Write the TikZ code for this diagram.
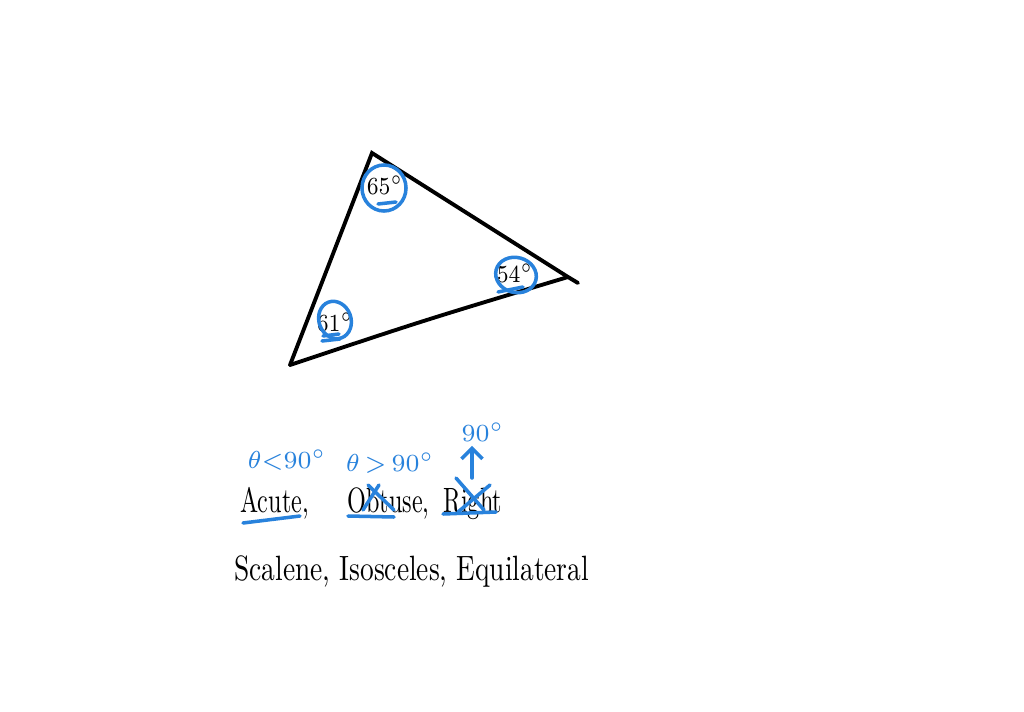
\documentclass[tikz,border=0pt]{standalone}
\usepackage{tikz}
\usetikzlibrary{shapes, arrows.meta, positioning}

\begin{document}
\begin{tikzpicture}[
    x=0.01cm, y=-0.01cm,
    % GLOBAL CFG
    >={Straight Barb[length=3pt]},
    line cap=round,
    % Styles
    side/.style={% For the triangle sides
        draw=black,
        line width=1.1pt,
        },
    angtxt/.style={% For the angle values
        text=black,
        font=\scriptsize,
        xscale=0.85,
        inner sep=1pt,
        },
    ring/.style={% Blue circle round an angle
        ellipse,
        draw=penblue,
        line width=1pt,
        inner sep=0pt,
        },
    penline/.style={% Blue pen strokes
        draw=penblue,
        line width=1pt,
        },
    bluetxt/.style={% Blue notes
        text=penblue,
        font=\scriptsize,
        inner sep=1pt,
        },
    wordtxt/.style={% Black words
        text=black,
        font=\fontsize{10}{12}\selectfont,
        xscale=0.78,
        inner sep=0pt,
        anchor=base west,
        },
    ]
\definecolor{penblue}{RGB}{40,130,220}

% Page
\useasboundingbox (0,0) rectangle (1024,712);
\fill[white] (0,0) rectangle (1024,712);

% Corners of the triangle
\coordinate (A) at (372,153);
\coordinate (B) at (568,277);
\coordinate (C) at (290,365);
\coordinate (Bt) at (578,283);

% Sides
\draw [side] (C) -- (A) -- (B) -- (Bt);
\draw [side] (C) .. controls (425,320) .. (B);

% Angles named as basis ta,tb,tc
\node [angtxt] (ta) at (385,185) {$65^\circ$};
\node [angtxt] (tb) at (515,273) {$54^\circ$};
\node [angtxt] (tc) at (335,322) {$61^\circ$};

\node [ring, minimum width=0.44cm, minimum height=0.46cm] (ra) at (384,188) {};
\node [ring, minimum width=0.41cm, minimum height=0.35cm, rotate=-15] (rb) at (516,275) {};
\node [ring, minimum width=0.32cm, minimum height=0.38cm, rotate=20] (rc) at (335,320) {};

% Underlines
\draw [penline] (ta) ++(-7,19) -- ++(18,-2);
\draw [penline] (tb) ++(-17,19) -- ++(25,-5);
\draw [penline] (tc) ++(-12,14) -- ++(16,-2);
\draw [penline] (tc) ++(-13,19) -- ++(18,-2);

% Words
\node [wordtxt, xscale=0.88] (acute) at (240,512) {Acute,};
\node [wordtxt, xscale=0.88] (obtuse) at (347,512) {Obtuse,};
\node [wordtxt, xscale=0.88] (right) at (443,512) {Right};
\node [wordtxt] (kinds) at (234,580) {Scalene, Isosceles, Equilateral};

% Blue notes
\node [bluetxt] (lt) at (287,460) {$\theta{<}90^\circ$};
\node [bluetxt] (gt) at (390,463) {$\theta\,{>}\,90^\circ$};
\node [bluetxt] (rt) at (483,432) {$90^\circ$};
\coordinate (rtail) at (472,478);
\draw [penline, ->] (rtail) -- (rtail |- rt.south);

% Marks on the words
\draw [penline] (acute.base west) ++(3,11) -- ++(57,-7);
\draw [penline] (obtuse.base west) ++(1,4) -- ++(46,1);
\draw [penline] (obtuse.base west) ++(16,-2) -- ++(16,-25);
\draw [penline] (obtuse.base west) ++(21,-27) -- ++(26,25);
\draw [penline] (right.base west) ++(0,2) -- ++(53,-2);
\draw [penline] (right.base west) ++(13,-34) -- ++(28,32);
\draw [penline] (right.base west) ++(15,0) -- ++(32,-27);

\end{tikzpicture}
\end{document}
